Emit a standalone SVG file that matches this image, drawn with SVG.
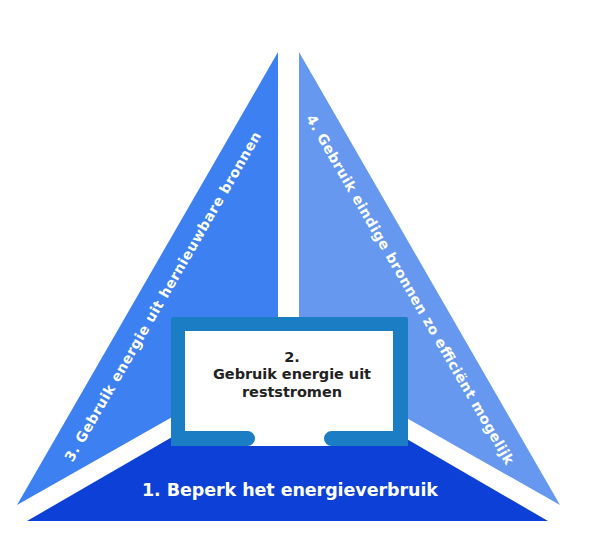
<svg xmlns="http://www.w3.org/2000/svg" width="593" height="551" viewBox="0 0 593 551">
  <style>
    .lbl { font-family: "DejaVu Sans", Verdana, sans-serif; font-weight: bold; }
    .white { fill: #ffffff; }
    .dark { fill: #222222; }
    .frame { fill: #1b7dc3; }
  </style>
  <rect width="593" height="551" fill="#ffffff"/>
  <g id="tier3">
    <polygon points="278,52 278,357 17,505" fill="#3d80f1"/>
    <text class="lbl white" font-size="14" text-anchor="middle" textLength="378" lengthAdjust="spacing" transform="translate(167,299) rotate(-60)">3. Gebruik energie uit hernieuwbare bronnen</text>
  </g>
  <g id="tier4">
    <polygon points="299,52 299,357 560,505" fill="#6698ef"/>
    <text class="lbl white" font-size="14" text-anchor="middle" textLength="401" lengthAdjust="spacing" transform="translate(406,292) rotate(60)">4. Gebruik eindige bronnen zo efficiënt mogelijk</text>
  </g>
  <g id="tier1">
    <polygon points="27,521 548,521 288,370" fill="#0d40d6"/>
    <text class="lbl white" font-size="17.5" text-anchor="middle" textLength="296" lengthAdjust="spacing" x="290" y="496">1. Beperk het energieverbruik</text>
  </g>
  <g id="tier2">
    <rect class="frame" x="171" y="317" width="237" height="129" rx="2"/>
    <rect x="185" y="331" width="208" height="115" fill="#ffffff"/>
    <path class="frame" d="M171,431 H247.5 A7.5,7.5 0 0 1 247.5,446 H171 Z"/>
    <path class="frame" d="M408,431 H331.5 A7.5,7.5 0 0 0 331.5,446 H408 Z"/>
    <text class="lbl dark" font-size="14.5" text-anchor="middle" x="292" y="362">2.</text>
    <text class="lbl dark" font-size="14.5" text-anchor="middle" textLength="158" lengthAdjust="spacing" x="292" y="379">Gebruik energie uit</text>
    <text class="lbl dark" font-size="14.5" text-anchor="middle" textLength="100" lengthAdjust="spacing" x="292" y="397">reststromen</text>
  </g>
</svg>
